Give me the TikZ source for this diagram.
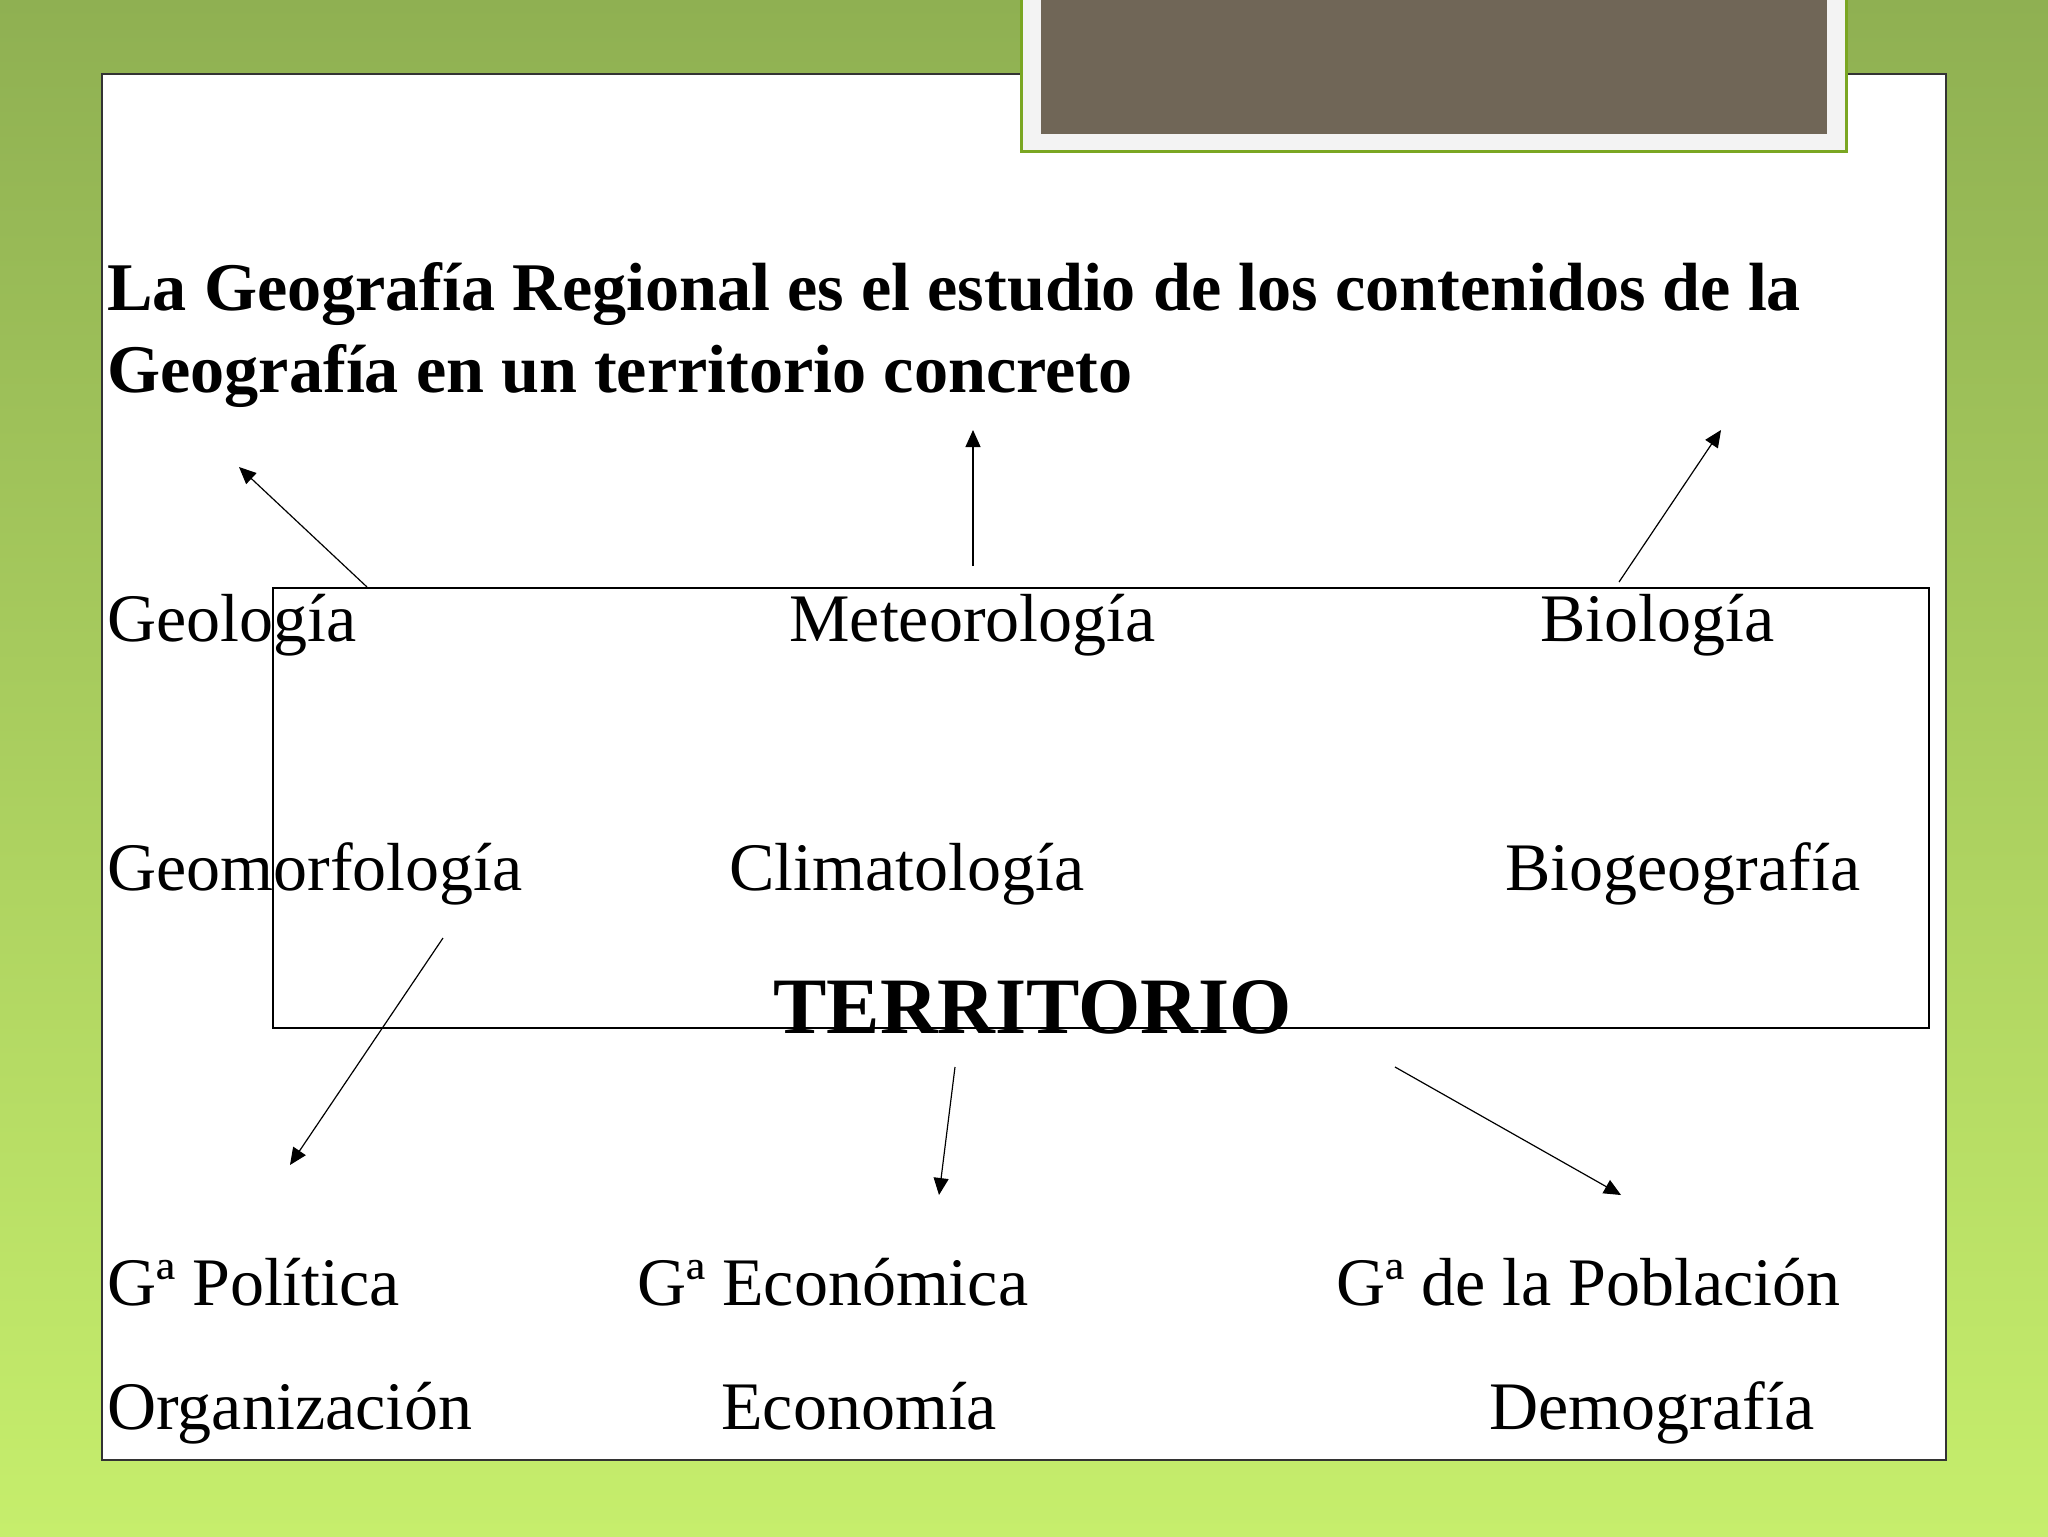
\documentclass[tikz,border=0pt]{standalone}
\usepackage{fontspec}
\setmainfont{Liberation Serif}
\usepackage{tikz}
\usetikzlibrary{arrows.meta,positioning,calc}

\definecolor{bgtop}{RGB}{143,176,82}
\definecolor{bgbottom}{RGB}{198,238,108}
\definecolor{framegreen}{RGB}{122,166,34}
\definecolor{slatebrown}{RGB}{112,102,87}
\definecolor{bandgray}{RGB}{243,243,243}

\begin{document}
\begin{tikzpicture}[
    x=0.5pt, y=-0.5pt,
    term/.style={anchor=base west, inner sep=0pt, font=\fontsize{34}{40}\selectfont},
    heading/.style={anchor=base west, inner sep=0pt, font=\fontsize{34.1}{41}\selectfont\bfseries},
    arrow/.style={-{Triangle[length=8.5pt,width=7.5pt]}, line width=0.6pt}
]
    \useasboundingbox (0,0) rectangle (2048,1536);

    % Slide background
    \shade[top color=bgtop, bottom color=bgbottom] (0,0) rectangle (2048,1536);
    \fill[white] (102,74) rectangle (1946,1460);
    \draw[black!80, line width=0.8pt] (102,74) rectangle (1946,1460);

    % Title bar
    \filldraw[fill=bandgray, draw=framegreen, line width=1.5pt] (1021,-10) rectangle (1846,151);
    \fill[slatebrown] (1041,-10) rectangle (1827,134);

    % Heading
    \node[heading] (title1) at (107,310) {La Geografía Regional es el estudio de los contenidos de la};
    \node[heading] (title2) at (107,392) {Geografía en un territorio concreto};

    % Territory box
    \draw[line width=0.75pt] (273,588) rectangle (1929,1028);

    % Physical branches
    \node[term] (geol) at (107,641) {Geología};
    \node[term] (meteo) at (789,641) {Meteorología};
    \node[term] (biol) at (1540,641) {Biología};

    \node[term] (geomorf) at (107,890) {Geomorfología};
    \node[term] (clima) at (729,890) {Climatología};
    \node[term] (biogeo) at (1505,890) {Biogeografía};

    \node[anchor=base west, inner sep=0pt, font=\fontsize{40}{44}\selectfont\bfseries] (terr) at (773,1033) {TERRITORIO};

    % Human branches
    \node[term] (gpol) at (107,1305) {Gª Política};
    \node[term] (gecon) at (637,1305) {Gª Económica};
    \node[term] (gpobl) at (1336,1305) {Gª de la Población};

    \node[term] (organiz) at (107,1429) {Organización};
    \node[term] (econ) at (721,1429) {Economía};
    \node[term] (demog) at (1489,1429) {Demografía};

    % Arrow ends
    \coordinate (geolA) at (367,587);  \coordinate (geolB) at (239,467);
    \coordinate (meteoA) at (973,566); \coordinate (meteoB) at (973,430);
    \coordinate (biolA) at (1619,582); \coordinate (biolB) at (1721,430);
    \coordinate (polA) at (443,938);   \coordinate (polB) at (290,1165);
    \coordinate (econA) at (955,1067); \coordinate (econB) at (939,1195);
    \coordinate (pobA) at (1395,1067); \coordinate (pobB) at (1621,1195);

    % Arrows
    \draw[arrow] (geolA) -- (geolB);
    \draw[arrow] (meteoA) -- (meteoB);
    \draw[arrow] (biolA) -- (biolB);
    \draw[arrow] (polA) -- (polB);
    \draw[arrow] (econA) -- (econB);
    \draw[arrow] (pobA) -- (pobB);
\end{tikzpicture}
\end{document}
